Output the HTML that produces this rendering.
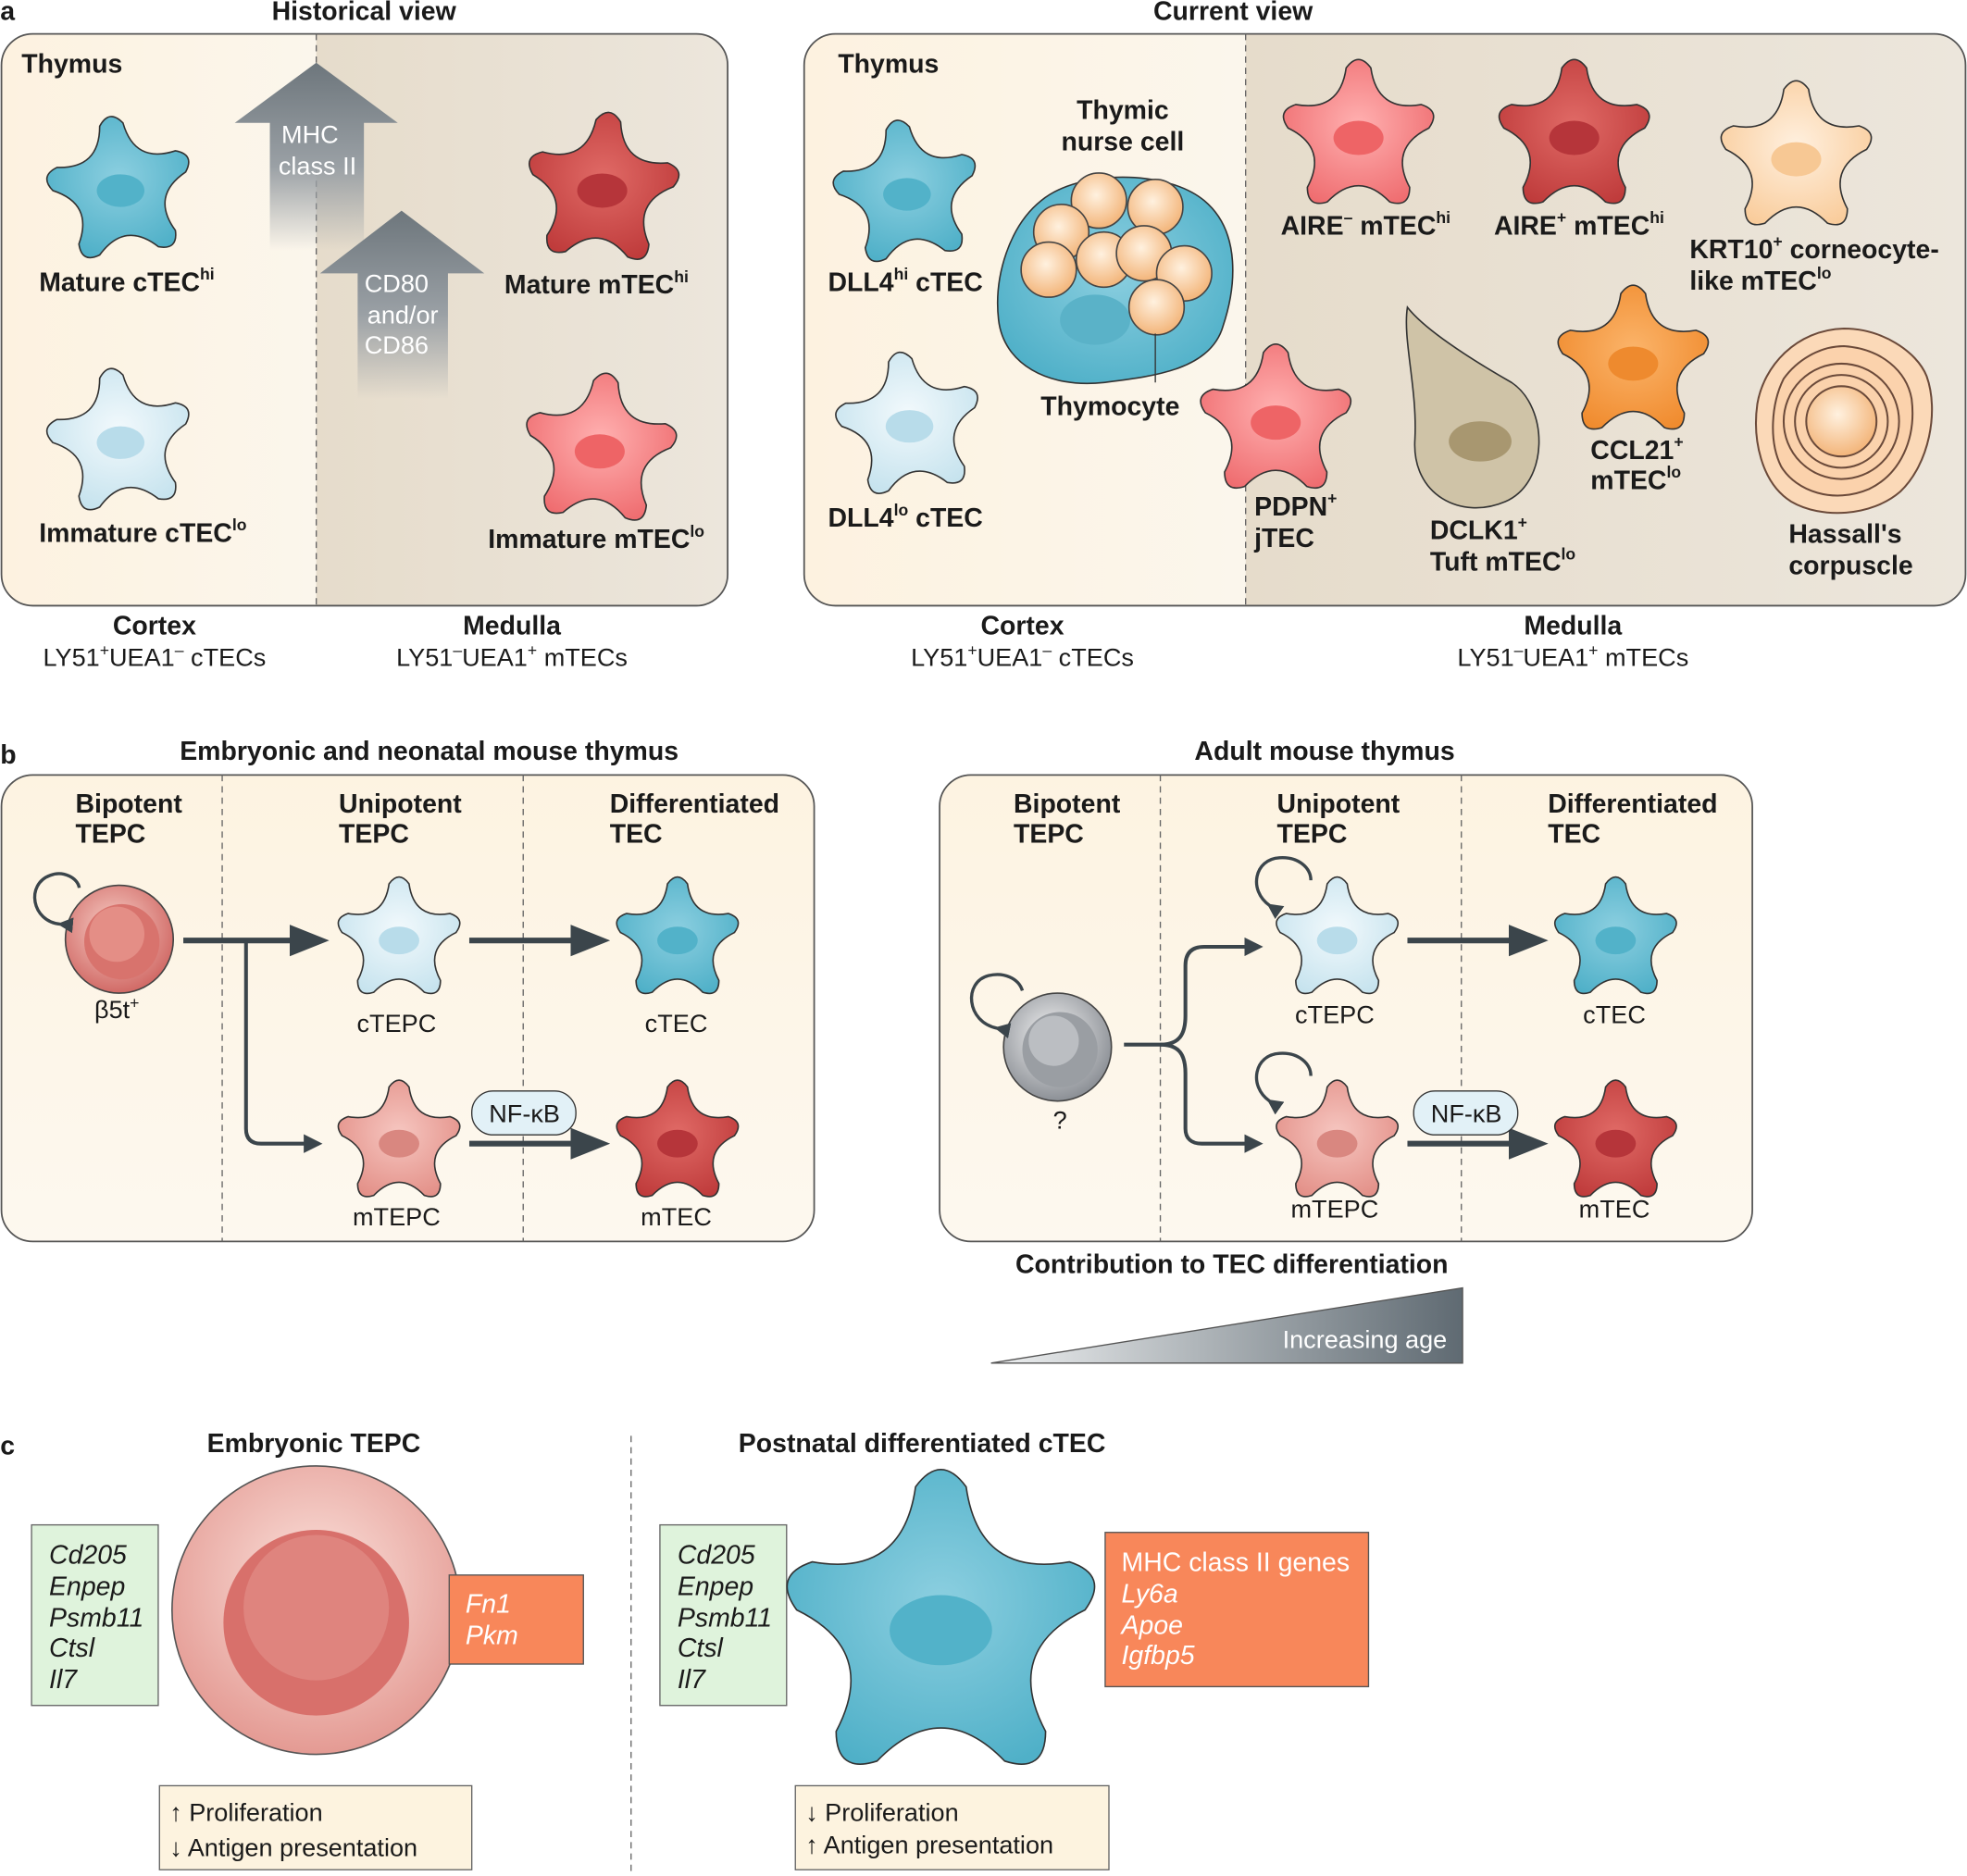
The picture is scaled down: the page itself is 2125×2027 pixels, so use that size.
<!DOCTYPE html>
<html><head><meta charset="utf-8"><style>
html,body{margin:0;padding:0;background:#fff}
svg{display:block}
text{font-family:"Liberation Sans",sans-serif;fill:#1a1a1a}
.b{font-weight:bold;font-size:21px}
.n{font-size:20px}
.i{font-style:italic;font-size:21px}
</style></head><body>
<svg width="2125" height="2027" viewBox="0 0 1568 1496" xmlns="http://www.w3.org/2000/svg">
<defs>
<path id="star"/>
<radialGradient id="gBlue" cx="50%" cy="45%" r="60%"><stop offset="0" stop-color="#8ccfe0"/><stop offset="1" stop-color="#4fb0c8"/></radialGradient>
<radialGradient id="gLBlue" cx="50%" cy="45%" r="60%"><stop offset="0" stop-color="#f2f9fc"/><stop offset="1" stop-color="#c6e3ee"/></radialGradient>
<radialGradient id="gDRed" cx="50%" cy="45%" r="60%"><stop offset="0" stop-color="#e06a66"/><stop offset="1" stop-color="#bf3b3b"/></radialGradient>
<radialGradient id="gPink" cx="50%" cy="45%" r="60%"><stop offset="0" stop-color="#ffb0b0"/><stop offset="1" stop-color="#ef6d70"/></radialGradient>
<radialGradient id="gLPink" cx="50%" cy="45%" r="60%"><stop offset="0" stop-color="#f6c6c0"/><stop offset="1" stop-color="#e39088"/></radialGradient>
<radialGradient id="gPeach" cx="50%" cy="45%" r="60%"><stop offset="0" stop-color="#fff0df"/><stop offset="1" stop-color="#f9cc9b"/></radialGradient>
<radialGradient id="gOrange" cx="50%" cy="45%" r="60%"><stop offset="0" stop-color="#fbb46a"/><stop offset="1" stop-color="#f08b2e"/></radialGradient>
<radialGradient id="gGray" cx="45%" cy="40%" r="60%"><stop offset="0" stop-color="#f4f4f4"/><stop offset="1" stop-color="#8c9096"/></radialGradient>
<radialGradient id="gRedBall" cx="45%" cy="40%" r="60%"><stop offset="0" stop-color="#f8d0c8"/><stop offset="1" stop-color="#d16a66"/></radialGradient>
<radialGradient id="gBigCircle" cx="50%" cy="40%" r="60%"><stop offset="0" stop-color="#fbe2dc"/><stop offset="1" stop-color="#e49a93"/></radialGradient>
<radialGradient id="gThym" cx="45%" cy="40%" r="60%"><stop offset="0" stop-color="#fff1df"/><stop offset="1" stop-color="#f3b57a"/></radialGradient>
<linearGradient id="gCortex" x1="0" x2="1"><stop offset="0" stop-color="#fdf2e0"/><stop offset="1" stop-color="#fbf6ec"/></linearGradient>
<linearGradient id="gMed" x1="0" x2="1"><stop offset="0" stop-color="#e6dccb"/><stop offset="1" stop-color="#ece6dc"/></linearGradient>
<linearGradient id="gBpanel" x1="0" x2="0" y1="0" y2="1"><stop offset="0" stop-color="#fdf3e1"/><stop offset="1" stop-color="#fdf8ef"/></linearGradient>
<linearGradient id="gArrow" x1="0" x2="0" y1="0" y2="1"><stop offset="0" stop-color="#6d767c"/><stop offset="0.55" stop-color="#9aa0a5"/><stop offset="1" stop-color="#9aa0a5" stop-opacity="0"/></linearGradient>
<linearGradient id="gTri" x1="0" x2="1"><stop offset="0" stop-color="#eef0f1"/><stop offset="1" stop-color="#5f6a72"/></linearGradient>
<marker id="ah" viewBox="0 0 10 10" refX="8" refY="5" markerWidth="5" markerHeight="5" orient="auto"><path d="M0,0 L10,5 L0,10 z" fill="#3b454b"/></marker>
<marker id="ahs" viewBox="0 0 10 10" refX="8" refY="5" markerWidth="7" markerHeight="7" orient="auto"><path d="M0,1 L10,5 L0,9 z" fill="#3b454b"/></marker>
</defs>

<text x="0" y="16" class="b">a</text>
<text x="290" y="16" class="b" text-anchor="middle">Historical view</text>
<text x="983" y="16" class="b" text-anchor="middle">Current view</text>

<clipPath id="c1"><rect x="1" y="27" width="579" height="456" rx="25"/></clipPath>
<g clip-path="url(#c1)"><rect x="1" y="27" width="252" height="456" fill="url(#gCortex)"/><rect x="252" y="27" width="330" height="456" fill="url(#gMed)"/></g>
<rect x="1" y="27" width="579" height="456" rx="25" fill="none" stroke="#555" stroke-width="1.3"/>
<line x1="252" y1="27" x2="252" y2="483" stroke="#666" stroke-dasharray="5,4"/>
<text x="17" y="58" class="b">Thymus</text>

<path d="M252,50 L317,98 L290,98 L290,200 L215,200 L215,98 L187,98 Z" fill="url(#gArrow)"/>
<text x="247" y="114" class="n" style="fill:#fff" text-anchor="middle">MHC</text>
<text x="253" y="139" class="n" style="fill:#fff" text-anchor="middle">class II</text>
<path d="M320,168 L386,218 L357,218 L357,318 L285,318 L285,218 L255,218 Z" fill="url(#gArrow)"/>
<text x="316" y="233" class="n" style="fill:#fff" text-anchor="middle">CD80</text>
<text x="321" y="258" class="n" style="fill:#fff" text-anchor="middle">and/or</text>
<text x="316" y="282" class="n" style="fill:#fff" text-anchor="middle">CD86</text>

<text x="31" y="232" class="b">Mature cTEC<tspan font-size="13" dy="-9">hi</tspan></text>
<text x="31" y="432" class="b">Immature cTEC<tspan font-size="13" dy="-9">lo</tspan></text>
<text x="402" y="234" class="b">Mature mTEC<tspan font-size="13" dy="-9">hi</tspan></text>
<text x="389" y="437" class="b">Immature mTEC<tspan font-size="13" dy="-9">lo</tspan></text>

<text x="123" y="506" class="b" text-anchor="middle">Cortex</text>
<text x="123" y="531" class="n" text-anchor="middle">LY51<tspan font-size="13" dy="-8">+</tspan><tspan dy="8">UEA1</tspan><tspan font-size="13" dy="-8">–</tspan><tspan dy="8"> cTECs</tspan></text>
<text x="408" y="506" class="b" text-anchor="middle">Medulla</text>
<text x="408" y="531" class="n" text-anchor="middle">LY51<tspan font-size="13" dy="-8">–</tspan><tspan dy="8">UEA1</tspan><tspan font-size="13" dy="-8">+</tspan><tspan dy="8"> mTECs</tspan></text>

<clipPath id="c2"><rect x="641" y="27" width="926" height="456" rx="25"/></clipPath>
<g clip-path="url(#c2)"><rect x="641" y="27" width="352" height="456" fill="url(#gCortex)"/><rect x="993" y="27" width="580" height="456" fill="url(#gMed)"/></g>
<rect x="641" y="27" width="926" height="456" rx="25" fill="none" stroke="#555" stroke-width="1.3"/>
<line x1="993" y1="27" x2="993" y2="483" stroke="#666" stroke-dasharray="5,4"/>
<text x="668" y="58" class="b">Thymus</text>

<path d="M830,160 C860,135 930,135 960,160 C990,185 985,230 975,260 C965,295 920,300 880,305 C835,310 800,290 796,255 C792,220 805,180 830,160 Z" fill="url(#gBlue)" stroke="#333" stroke-width="1.2"/>
<ellipse cx="873" cy="255" rx="28" ry="20" fill="#5ab2c8"/>
<g stroke="#444" stroke-width="1.2" fill="url(#gThym)">
<circle cx="876" cy="160" r="22"/><circle cx="921" cy="165" r="22"/><circle cx="846" cy="185" r="22"/>
<circle cx="880" cy="207" r="22"/><circle cx="912" cy="202" r="22"/><circle cx="944" cy="218" r="22"/>
<circle cx="836" cy="215" r="22"/><circle cx="922" cy="245" r="22"/>
</g>
<line x1="921" y1="266" x2="921" y2="305" stroke="#333"/>
<text x="895" y="95" class="b" text-anchor="middle">Thymic</text>
<text x="895" y="120" class="b" text-anchor="middle">nurse cell</text>
<text x="885" y="331" class="b" text-anchor="middle">Thymocyte</text>

<path d="M1122,245 C1135,262 1170,285 1205,305 C1235,325 1235,385 1200,400 C1165,415 1125,395 1128,350 C1130,310 1118,270 1122,245 Z" fill="#cfc3a7" stroke="#333" stroke-width="1.2"/>
<ellipse cx="1180" cy="352" rx="25" ry="16" fill="#a89770"/>

<g fill="none" stroke="#6b4a3a" stroke-width="1.5">
<path d="M1470,262 C1500,262 1528,280 1536,300 C1546,328 1538,370 1515,392 C1492,412 1452,414 1428,400 C1404,385 1397,350 1401,322 C1406,292 1432,263 1470,262 Z" fill="#fbd9b8"/>
<path d="M1470,276 C1500,278 1520,296 1524,318 C1528,350 1515,378 1490,390 C1462,402 1432,392 1420,372 C1410,352 1412,322 1422,302 C1432,288 1450,276 1470,276 Z" fill="#fbd2ac"/>
<circle cx="1468" cy="336" r="46"/>
<circle cx="1468" cy="336" r="37"/>
<circle cx="1468" cy="336" r="28" fill="url(#gThym)"/>
</g>

<text x="660" y="232" class="b">DLL4<tspan font-size="13" dy="-9">hi</tspan><tspan dy="9"> cTEC</tspan></text>
<text x="660" y="420" class="b">DLL4<tspan font-size="13" dy="-9">lo</tspan><tspan dy="9"> cTEC</tspan></text>
<text x="1021" y="187" class="b">AIRE<tspan font-size="13" dy="-9">–</tspan><tspan dy="9"> mTEC</tspan><tspan font-size="13" dy="-9">hi</tspan></text>
<text x="1191" y="187" class="b">AIRE<tspan font-size="13" dy="-9">+</tspan><tspan dy="9"> mTEC</tspan><tspan font-size="13" dy="-9">hi</tspan></text>
<text x="1347" y="206" class="b">KRT10<tspan font-size="13" dy="-9">+</tspan><tspan dy="9"> corneocyte-</tspan></text>
<text x="1347" y="231" class="b">like mTEC<tspan font-size="13" dy="-9">lo</tspan></text>
<text x="1000" y="411" class="b">PDPN<tspan font-size="13" dy="-9">+</tspan></text>
<text x="1000" y="436" class="b">jTEC</text>
<text x="1140" y="430" class="b">DCLK1<tspan font-size="13" dy="-9">+</tspan></text>
<text x="1140" y="455" class="b">Tuft mTEC<tspan font-size="13" dy="-9">lo</tspan></text>
<text x="1268" y="366" class="b">CCL21<tspan font-size="13" dy="-9">+</tspan></text>
<text x="1268" y="390" class="b">mTEC<tspan font-size="13" dy="-9">lo</tspan></text>
<text x="1426" y="433" class="b">Hassall's</text>
<text x="1426" y="458" class="b">corpuscle</text>

<text x="815" y="506" class="b" text-anchor="middle">Cortex</text>
<text x="815" y="531" class="n" text-anchor="middle">LY51<tspan font-size="13" dy="-8">+</tspan><tspan dy="8">UEA1</tspan><tspan font-size="13" dy="-8">–</tspan><tspan dy="8"> cTECs</tspan></text>
<text x="1254" y="506" class="b" text-anchor="middle">Medulla</text>
<text x="1254" y="531" class="n" text-anchor="middle">LY51<tspan font-size="13" dy="-8">–</tspan><tspan dy="8">UEA1</tspan><tspan font-size="13" dy="-8">+</tspan><tspan dy="8"> mTECs</tspan></text>

<text x="0" y="609" class="b">b</text>
<text x="342" y="606" class="b" text-anchor="middle">Embryonic and neonatal mouse thymus</text>
<text x="1056" y="606" class="b" text-anchor="middle">Adult mouse thymus</text>

<rect x="1" y="618" width="648" height="372" rx="25" fill="url(#gBpanel)" stroke="#555" stroke-width="1.3"/>
<line x1="177" y1="618" x2="177" y2="990" stroke="#666" stroke-dasharray="5,4"/>
<line x1="417" y1="618" x2="417" y2="990" stroke="#666" stroke-dasharray="5,4"/>
<rect x="749" y="618" width="648" height="372" rx="25" fill="url(#gBpanel)" stroke="#555" stroke-width="1.3"/>
<line x1="925" y1="618" x2="925" y2="990" stroke="#666" stroke-dasharray="5,4"/>
<line x1="1165" y1="618" x2="1165" y2="990" stroke="#666" stroke-dasharray="5,4"/>

<text x="60" y="648" class="b">Bipotent</text><text x="60" y="672" class="b">TEPC</text>
<text x="270" y="648" class="b">Unipotent</text><text x="270" y="672" class="b">TEPC</text>
<text x="486" y="648" class="b">Differentiated</text><text x="486" y="672" class="b">TEC</text>
<text x="808" y="648" class="b">Bipotent</text><text x="808" y="672" class="b">TEPC</text>
<text x="1018" y="648" class="b">Unipotent</text><text x="1018" y="672" class="b">TEPC</text>
<text x="1234" y="648" class="b">Differentiated</text><text x="1234" y="672" class="b">TEC</text>

<circle cx="95" cy="749" r="43" fill="url(#gRedBall)" stroke="#444" stroke-width="1.2"/>
<circle cx="97" cy="751" r="30" fill="#d8736d"/>
<circle cx="93" cy="745" r="22" fill="#e99a92" opacity="0.7"/>
<path d="M48,737 C25,735 20,705 40,698 C50,694 62,700 63,708" fill="none" stroke="#3b454b" stroke-width="2.5" marker-start="url(#ah)"/>
<text x="93" y="812" class="n" text-anchor="middle">β5t<tspan font-size="13" dy="-8">+</tspan></text>

<g stroke="#3b454b" fill="none">
<line x1="146" y1="750" x2="256" y2="750" marker-end="url(#ahs)" stroke-width="4.5"/>
<path d="M196,750 L196,900 C196,908 200,912 208,912 L254,912" stroke-width="3" marker-end="url(#ah)"/>
<line x1="374" y1="750" x2="480" y2="750" marker-end="url(#ahs)" stroke-width="4.5"/>
<line x1="374" y1="912" x2="480" y2="912" marker-end="url(#ahs)" stroke-width="4.5"/>
<line x1="1122" y1="750" x2="1228" y2="750" marker-end="url(#ahs)" stroke-width="4.5"/>
<line x1="1122" y1="912" x2="1228" y2="912" marker-end="url(#ahs)" stroke-width="4.5"/>
<path d="M896,833 L925,833 C940,833 945,825 945,810 L945,770 C945,760 950,755 960,755 L1004,755" stroke-width="3" marker-end="url(#ah)"/>
<path d="M925,833 C940,833 945,841 945,856 L945,900 C945,908 950,912 958,912 L1004,912" stroke-width="3" marker-end="url(#ah)"/>
</g>
<rect x="376" y="870" width="83" height="35" rx="17" fill="#e2f1f7" stroke="#333"/>
<text x="418" y="895" class="n" text-anchor="middle">NF-κB</text>
<rect x="1127" y="870" width="83" height="35" rx="17" fill="#e2f1f7" stroke="#333"/>
<text x="1169" y="895" class="n" text-anchor="middle">NF-κB</text>

<text x="316" y="823" class="n" text-anchor="middle">cTEPC</text>
<text x="539" y="823" class="n" text-anchor="middle">cTEC</text>
<text x="316" y="977" class="n" text-anchor="middle">mTEPC</text>
<text x="539" y="977" class="n" text-anchor="middle">mTEC</text>

<circle cx="843" cy="835" r="43" fill="url(#gGray)" stroke="#444" stroke-width="1.2"/>
<circle cx="845" cy="837" r="30" fill="#9a9ea3"/>
<circle cx="840" cy="830" r="20" fill="#c9cccf" opacity="0.7"/>
<path d="M795,820 C770,815 768,783 788,778 C800,775 812,780 815,790" fill="none" stroke="#3b454b" stroke-width="2.5" marker-start="url(#ah)"/>
<text x="845" y="900" class="n" text-anchor="middle">?</text>
<path d="M1012,722 C995,710 1000,685 1020,684 C1035,683 1045,692 1045,702" fill="none" stroke="#3b454b" stroke-width="2.5" marker-start="url(#ah)"/>
<path d="M1012,878 C995,866 1000,841 1020,840 C1035,839 1045,848 1045,858" fill="none" stroke="#3b454b" stroke-width="2.5" marker-start="url(#ah)"/>
<text x="1064" y="816" class="n" text-anchor="middle">cTEPC</text>
<text x="1287" y="816" class="n" text-anchor="middle">cTEC</text>
<text x="1064" y="971" class="n" text-anchor="middle">mTEPC</text>
<text x="1287" y="971" class="n" text-anchor="middle">mTEC</text>

<text x="982" y="1015" class="b" text-anchor="middle">Contribution to TEC differentiation</text>
<polygon points="790,1087 1166,1027 1166,1087" fill="url(#gTri)" stroke="#555" stroke-width="1"/>
<text x="1088" y="1075" class="n" style="fill:#fff" text-anchor="middle">Increasing age</text>

<text x="0" y="1160" class="b">c</text>
<text x="250" y="1158" class="b" text-anchor="middle">Embryonic TEPC</text>
<text x="735" y="1158" class="b" text-anchor="middle">Postnatal differentiated cTEC</text>
<line x1="503" y1="1145" x2="503" y2="1496" stroke="#666" stroke-dasharray="5,4"/>

<rect x="25" y="1216" width="101" height="144" fill="#dff3dc" stroke="#666"/>
<text x="39" y="1247" class="i">Cd205</text><text x="39" y="1272" class="i">Enpep</text><text x="39" y="1297" class="i">Psmb11</text><text x="39" y="1321" class="i">Ctsl</text><text x="39" y="1346" class="i">Il7</text>
<circle cx="252" cy="1284" r="115" fill="url(#gBigCircle)" stroke="#555" stroke-width="1.2"/>
<circle cx="252" cy="1294" r="74" fill="#d8706b"/>
<circle cx="252" cy="1282" r="58" fill="#e59891" opacity="0.5"/>
<rect x="358" y="1256" width="107" height="71" fill="#f8875a" stroke="#555"/>
<text x="371" y="1286" class="i" style="fill:#fff">Fn1</text><text x="371" y="1311" class="i" style="fill:#fff">Pkm</text>
<rect x="127" y="1424" width="249" height="67" fill="#fdf3df" stroke="#666"/>
<text x="135" y="1452" class="n">↑ Proliferation</text>
<text x="135" y="1480" class="n">↓ Antigen presentation</text>

<rect x="526" y="1216" width="101" height="144" fill="#dff3dc" stroke="#666"/>
<text x="540" y="1247" class="i">Cd205</text><text x="540" y="1272" class="i">Enpep</text><text x="540" y="1297" class="i">Psmb11</text><text x="540" y="1321" class="i">Ctsl</text><text x="540" y="1346" class="i">Il7</text>
<rect x="881" y="1222" width="210" height="123" fill="#f8875a" stroke="#555"/>
<text x="894" y="1253" class="n" style="fill:#fff;font-size:21px">MHC class II genes</text>
<text x="894" y="1278" class="i" style="fill:#fff">Ly6a</text><text x="894" y="1303" class="i" style="fill:#fff">Apoe</text><text x="894" y="1327" class="i" style="fill:#fff">Igfbp5</text>
<rect x="634" y="1424" width="250" height="67" fill="#fdf3df" stroke="#666"/>
<text x="642" y="1452" class="n">↓ Proliferation</text>
<text x="642" y="1478" class="n">↑ Antigen presentation</text>

<g id="stars"></g>
</svg>
<script>
(function(){
 function P(r,a){a=a*Math.PI/180;return [(r*Math.cos(a)).toFixed(2),(r*Math.sin(a)).toFixed(2)];}
 var R=60,rv=24,d="";
 for(var i=0;i<5;i++){
  var a=-90+72*i;
  var L=P(R*0.9,a-10),C=P(R*1.1,a),Rt=P(R*0.9,a+10),V=P(rv,a+36),Ln=P(R*0.9,a+72-10);
  if(i==0)d+="M"+L.join(",");
  d+=" Q"+C.join(",")+" "+Rt.join(",");
  d+=" Q"+V.join(",")+" "+Ln.join(",");
 }
 d+="Z";
 document.getElementById("star").setAttribute("d",d);
 var ns="http://www.w3.org/2000/svg",g=document.getElementById("stars");
 var fills={blue:["url(#gBlue)","#52b2c9"],lblue:["url(#gLBlue)","#b8dcea"],dred:["url(#gDRed)","#b6353a"],pink:["url(#gPink)","#ee6466"],lpink:["url(#gLPink)","#d98780"],peach:["url(#gPeach)","#f7c894"],orange:["url(#gOrange)","#ee8a2e"]};
 var list=[
  [96,152,1,"blue",-8],[96,353,1,"lblue",-8],[480,152,1.05,"dred",5],[478,360,1.05,"pink",5],
  [723,155,1,"blue",-8],[725,340,1,"lblue",-8],[1083,110,1.05,"pink",0],[1255,110,1.05,"dred",0],[1432,127,1.05,"peach",0],
  [1302,290,1.05,"orange",0],[1017,337,1.05,"pink",0],
  [318,750,0.85,"lblue",0],[540,750,0.85,"blue",0],[318,912,0.85,"lpink",0],[540,912,0.85,"dred",0],
  [1066,750,0.85,"lblue",0],[1288,750,0.85,"blue",0],[1066,912,0.85,"lpink",0],[1288,912,0.85,"dred",0],
  [750,1300,2.15,"blue",0]
 ];
 list.forEach(function(s){
  var u=document.createElementNS(ns,"use");
  u.setAttribute("href","#star");
  u.setAttribute("transform","translate("+s[0]+","+s[1]+") rotate("+s[4]+") scale("+s[2]+")");
  u.setAttribute("fill",fills[s[3]][0]);u.setAttribute("stroke","#333");u.setAttribute("stroke-width",(1.2/s[2]).toFixed(2));
  g.appendChild(u);
  var e=document.createElementNS(ns,"ellipse");
  e.setAttribute("cx",s[0]);e.setAttribute("cy",s[1]);e.setAttribute("rx",19*s[2]);e.setAttribute("ry",13*s[2]);
  e.setAttribute("fill",fills[s[3]][1]);g.appendChild(e);
 });
})();
</script>
</body></html>
